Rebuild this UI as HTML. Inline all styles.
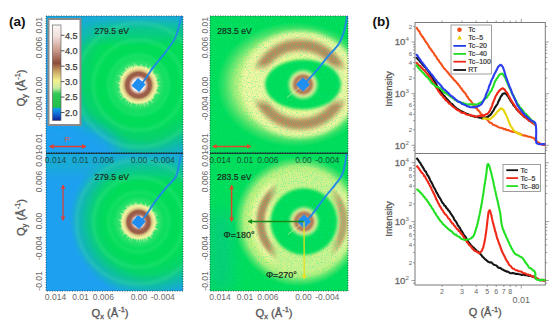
<!DOCTYPE html>
<html><head><meta charset="utf-8"><style>
html,body{margin:0;padding:0;background:#fff;}
svg{display:block;font-family:"Liberation Sans", sans-serif;}
</style></head><body>
<svg width="550" height="324" viewBox="0 0 550 324">
<defs>
<clipPath id="clip1"><rect x="46" y="16" width="137" height="137"/></clipPath>
<clipPath id="clip2"><rect x="210" y="16" width="138" height="137"/></clipPath>
<clipPath id="clip3"><rect x="46" y="153" width="137" height="138"/></clipPath>
<clipPath id="clip4"><rect x="210" y="153" width="138" height="138"/></clipPath>
<filter id="speck" x="0" y="0" width="100%" height="100%" filterUnits="objectBoundingBox"><feTurbulence type="fractalNoise" baseFrequency="0.8" numOctaves="2" seed="3" result="n"/><feColorMatrix in="n" type="matrix" values="0 0 0 0 0  0 0 0 0 0.863  0 0 0 0 0.345  4 0 0 0 -2.0"/><feGaussianBlur stdDeviation="0.35"/></filter>
<filter id="b05" x="-50%" y="-50%" width="200%" height="200%"><feGaussianBlur stdDeviation="0.6"/></filter>
<filter id="b1" x="-50%" y="-50%" width="200%" height="200%"><feGaussianBlur stdDeviation="1"/></filter>
<filter id="b15" x="-50%" y="-50%" width="200%" height="200%"><feGaussianBlur stdDeviation="1.5"/></filter>
<filter id="b2" x="-50%" y="-50%" width="200%" height="200%"><feGaussianBlur stdDeviation="2"/></filter>
<filter id="b3" x="-50%" y="-50%" width="200%" height="200%"><feGaussianBlur stdDeviation="3"/></filter>
<filter id="b5" x="-50%" y="-50%" width="200%" height="200%"><feGaussianBlur stdDeviation="5"/></filter>
<filter id="b8" x="-50%" y="-50%" width="200%" height="200%"><feGaussianBlur stdDeviation="8"/></filter>
<filter id="b14" x="-80%" y="-80%" width="260%" height="260%"><feGaussianBlur stdDeviation="14"/></filter>
<radialGradient id="core1" gradientUnits="userSpaceOnUse" cx="144.5" cy="77.0" r="98"><stop offset="0" stop-color="#00dc58" stop-opacity="1"/><stop offset="0.5" stop-color="#00dc58" stop-opacity="1"/><stop offset="0.64" stop-color="#08d070" stop-opacity="1"/><stop offset="0.78" stop-color="#10b8b0" stop-opacity="1"/><stop offset="0.92" stop-color="#1ea0f0" stop-opacity="1"/><stop offset="1" stop-color="#1ea0f0" stop-opacity="1"/></radialGradient>
<linearGradient id="top1" x1="0" y1="0" x2="0" y2="1"><stop offset="0" stop-color="#18a8e0" stop-opacity="0.95"/><stop offset="0.45" stop-color="#14b4c0" stop-opacity="0.5"/><stop offset="1" stop-color="#18a8e0" stop-opacity="0"/></linearGradient>
<radialGradient id="lr13885" gradientUnits="userSpaceOnUse" cx="138.5" cy="85.0" r="19.8"><stop offset="0" stop-color="#ffffff"/><stop offset="0.3" stop-color="#fcf8f6"/><stop offset="0.4" stop-color="#d0a898"/><stop offset="0.5" stop-color="#9e5c4a"/><stop offset="0.64" stop-color="#9a6048"/><stop offset="0.74" stop-color="#d8c080"/><stop offset="0.86" stop-color="#f2f0a0"/><stop offset="1" stop-color="#f0f0a0" stop-opacity="0"/></radialGradient>
<radialGradient id="halo2" gradientUnits="userSpaceOnUse" cx="295.0" cy="84.5" r="78" gradientTransform="translate(0 84.5) scale(1 0.8) translate(0 -84.5)"><stop offset="0" stop-color="#f2f888"/><stop offset="0.5" stop-color="#f2f888"/><stop offset="0.62" stop-color="#e0f488"/><stop offset="0.76" stop-color="#b0ee7c"/><stop offset="0.9" stop-color="#40e064"/><stop offset="1" stop-color="#00dc58"/></radialGradient>
<linearGradient id="bm2" gradientUnits="userSpaceOnUse" x1="0" y1="34.5" x2="0" y2="134.5"><stop offset="0" stop-color="#fff"/><stop offset="0.28" stop-color="#fff"/><stop offset="0.37" stop-color="#000"/><stop offset="0.63" stop-color="#000"/><stop offset="0.72" stop-color="#fff"/><stop offset="1" stop-color="#fff"/></linearGradient>
<mask id="m2" maskUnits="userSpaceOnUse" x="210" y="16" width="138" height="137"><rect x="210" y="16" width="138" height="137" fill="url(#bm2)"/></mask>
<radialGradient id="inner2" gradientUnits="userSpaceOnUse" cx="303.0" cy="84.5" r="16"><stop offset="0" stop-color="#f8f0e8"/><stop offset="0.35" stop-color="#c09070"/><stop offset="0.55" stop-color="#a06848"/><stop offset="0.72" stop-color="#f0f0a0"/><stop offset="1" stop-color="#f0f0a0" stop-opacity="0"/></radialGradient>
<radialGradient id="core3" gradientUnits="userSpaceOnUse" cx="148.6" cy="220.0" r="90"><stop offset="0" stop-color="#00dc58" stop-opacity="1"/><stop offset="0.47" stop-color="#00dc58" stop-opacity="1"/><stop offset="0.6" stop-color="#06d46c" stop-opacity="1"/><stop offset="0.75" stop-color="#10b8b0" stop-opacity="1"/><stop offset="0.88" stop-color="#1ea0f0" stop-opacity="1"/><stop offset="1" stop-color="#1ea0f0" stop-opacity="1"/></radialGradient>
<linearGradient id="top3" x1="0" y1="0" x2="0" y2="1"><stop offset="0" stop-color="#18a8e0" stop-opacity="0.95"/><stop offset="0.45" stop-color="#14b4c0" stop-opacity="0.5"/><stop offset="1" stop-color="#18a8e0" stop-opacity="0"/></linearGradient>
<radialGradient id="lr138222" gradientUnits="userSpaceOnUse" cx="138.6" cy="222.0" r="18.4"><stop offset="0" stop-color="#ffffff"/><stop offset="0.28" stop-color="#f0e0dc"/><stop offset="0.4" stop-color="#b07868"/><stop offset="0.5" stop-color="#9a5a48"/><stop offset="0.62" stop-color="#9a6048"/><stop offset="0.72" stop-color="#d8c080"/><stop offset="0.84" stop-color="#f2f0a0"/><stop offset="1" stop-color="#f0f0a0" stop-opacity="0"/></radialGradient>
<radialGradient id="halo4" gradientUnits="userSpaceOnUse" cx="299.0" cy="221.5" r="66"><stop offset="0" stop-color="#f2f888"/><stop offset="0.55" stop-color="#f2f888"/><stop offset="0.7" stop-color="#e0f488"/><stop offset="0.84" stop-color="#b0ee7c"/><stop offset="0.95" stop-color="#40e064" stop-opacity="0.6"/><stop offset="1" stop-color="#00dc58" stop-opacity="0"/></radialGradient>
<linearGradient id="bm4" gradientUnits="userSpaceOnUse" x1="254.0" y1="0" x2="354.0" y2="0"><stop offset="0" stop-color="#fff"/><stop offset="0.14" stop-color="#fff"/><stop offset="0.24" stop-color="#000"/><stop offset="0.76" stop-color="#000"/><stop offset="0.86" stop-color="#c0c0c0"/><stop offset="1" stop-color="#c0c0c0"/></linearGradient>
<mask id="m4" maskUnits="userSpaceOnUse" x="210" y="153" width="138" height="138"><rect x="210" y="153" width="138" height="138" fill="url(#bm4)"/></mask>
<radialGradient id="inner4" gradientUnits="userSpaceOnUse" cx="304.0" cy="221.5" r="16"><stop offset="0" stop-color="#f8f0e8"/><stop offset="0.35" stop-color="#c09070"/><stop offset="0.55" stop-color="#a06848"/><stop offset="0.72" stop-color="#f0f0a0"/><stop offset="1" stop-color="#f0f0a0" stop-opacity="0"/></radialGradient>
<linearGradient id="cbar" x1="0" y1="0" x2="0" y2="1"><stop offset="0" stop-color="#fbf7f5"/><stop offset="0.12" stop-color="#f0e0da"/><stop offset="0.27" stop-color="#c89888"/><stop offset="0.4" stop-color="#8a4c3a"/><stop offset="0.48" stop-color="#c8a060"/><stop offset="0.58" stop-color="#f2f08e"/><stop offset="0.66" stop-color="#c8eca0"/><stop offset="0.72" stop-color="#30c858"/><stop offset="0.86" stop-color="#20c048"/><stop offset="0.875" stop-color="#10a0e8"/><stop offset="0.94" stop-color="#1060d0"/><stop offset="1" stop-color="#102090"/></linearGradient>
<clipPath id="chartclip"><rect x="415" y="18" width="130.5" height="270"/></clipPath>
</defs>
<g clip-path="url(#clip1)">
<rect x="46" y="16" width="137" height="137" fill="url(#core1)"/>
<ellipse cx="58" cy="150" rx="58" ry="26" fill="#1ea0f0" filter="url(#b8)"/>
<rect x="46" y="16" width="137" height="30" fill="url(#top1)"/>
<circle cx="138.5" cy="85.0" r="30" fill="none" stroke="#70f4a8" stroke-width="3" opacity="0.22" filter="url(#b15)"/>
<circle cx="138.5" cy="85.0" r="45" fill="none" stroke="#70f4a8" stroke-width="3" opacity="0.22" filter="url(#b15)"/>
<circle cx="138.5" cy="85.0" r="62" fill="none" stroke="#70f4a8" stroke-width="3" opacity="0.22" filter="url(#b15)"/>
<circle cx="138.5" cy="85.0" r="25.8" fill="#70ec90" opacity="0.45" filter="url(#b3)"/>
<polygon points="159.3,85.0 156.9,85.4 162.1,86.1 156.7,86.3 159.5,87.0 156.8,87.2 157.5,87.8 156.5,88.1 159.9,89.2 157.0,89.1 156.6,89.5 155.7,89.7 156.3,90.3 156.5,90.9 159.5,92.4 154.7,91.1 160.7,94.0 156.2,92.7 158.4,94.3 155.1,93.2 155.3,93.8 153.6,93.4 156.8,95.8 153.2,94.1 154.6,95.5 153.1,95.1 153.3,95.7 153.0,96.0 154.6,98.0 153.0,97.3 154.4,99.0 152.1,97.7 153.6,99.7 151.5,98.3 152.7,100.2 150.3,98.3 154.0,103.4 150.6,100.1 152.5,103.4 149.5,100.1 149.8,101.4 148.2,99.8 148.9,101.8 147.3,100.0 149.5,104.8 146.9,101.0 148.8,105.8 146.1,101.4 148.0,106.8 145.7,102.6 144.9,101.9 144.4,101.7 145.8,107.4 143.7,102.5 144.8,108.1 142.8,102.5 142.5,103.1 142.1,103.2 142.3,107.4 141.1,102.6 140.7,103.4 140.2,102.8 140.2,108.8 139.4,103.8 139.0,103.8 138.5,102.7 138.0,103.7 137.7,102.3 136.8,107.8 136.8,102.5 135.9,106.3 135.9,103.0 135.3,103.9 134.9,103.4 134.4,103.4 134.1,103.0 133.6,103.1 133.3,102.3 132.5,103.4 132.6,101.8 130.0,107.4 131.4,102.5 130.6,103.2 130.5,102.3 129.9,102.3 130.1,101.0 127.2,105.3 129.1,101.0 128.7,100.9 127.9,101.2 127.5,100.9 128.1,99.4 124.7,103.0 127.3,99.0 125.7,100.2 127.0,98.0 125.8,98.6 125.6,98.2 124.5,98.6 125.0,97.6 123.3,98.5 124.6,96.7 119.9,99.9 124.0,96.1 121.1,97.6 122.8,95.8 122.5,95.5 123.6,94.3 118.2,96.9 121.9,94.2 121.2,94.1 122.7,92.8 118.1,94.5 120.9,92.7 120.7,92.3 120.5,91.8 116.5,92.8 120.9,90.7 118.8,90.9 121.7,89.6 120.7,89.4 119.7,89.2 119.4,88.7 120.1,88.2 119.1,87.8 119.7,87.3 117.0,87.1 120.7,86.3 119.4,85.9 119.8,85.5 120.0,85.0 120.8,84.6 117.1,84.0 119.5,83.6 116.8,82.9 120.8,82.9 115.2,81.6 121.1,82.0 120.7,81.5 121.1,81.2 118.4,80.0 121.8,80.4 120.2,79.5 121.4,79.4 118.2,77.9 122.2,78.8 119.8,77.4 121.0,77.4 116.8,74.9 121.8,76.8 118.8,74.7 122.4,76.0 122.2,75.4 123.8,75.9 123.3,75.0 122.7,74.1 120.5,71.9 123.2,73.3 124.3,73.6 124.3,73.0 122.8,71.1 124.8,72.2 124.2,71.0 125.0,71.2 125.9,71.4 126.3,71.2 124.0,67.8 126.5,70.1 124.8,67.1 127.5,69.9 125.5,66.2 128.0,69.0 127.9,67.9 129.0,68.9 127.1,64.5 129.6,68.1 129.4,66.6 130.5,67.9 129.2,63.7 131.5,67.9 130.8,64.6 132.5,68.0 131.8,64.5 133.2,67.3 133.6,67.1 134.1,67.0 133.3,61.5 134.8,66.3 134.7,62.9 135.9,67.2 135.8,62.7 136.7,66.6 137.0,64.3 137.6,66.0 138.1,66.4 138.5,66.2 138.9,66.8 139.4,66.5 140.0,64.1 140.2,67.4 141.2,62.9 141.1,66.9 142.2,63.6 142.2,66.2 142.7,65.9 142.6,68.3 143.7,65.8 143.8,67.1 144.5,66.7 144.3,68.4 146.8,63.0 145.5,67.8 146.8,66.0 146.6,67.7 147.4,67.0 147.2,68.5 147.9,68.2 147.7,69.4 150.6,65.5 149.0,69.0 151.8,65.8 149.1,70.4 151.6,67.9 149.7,71.1 150.7,70.6 150.6,71.3 154.2,68.1 151.8,71.4 154.5,69.4 152.6,71.9 153.3,71.9 151.9,73.7 154.7,72.0 152.6,74.2 154.2,73.6 153.4,74.7 156.8,73.0 154.0,75.4 155.7,74.9 155.1,75.8 159.7,73.9 154.8,76.9 155.3,77.2 154.3,78.1 160.1,76.2 154.7,78.9 159.6,77.6 156.0,79.3 157.6,79.3 156.7,80.0 156.1,80.7 155.6,81.2 158.9,81.0 155.5,82.1 161.3,81.7 156.1,82.9 157.3,83.2 155.8,83.7 160.3,83.9 156.7,84.6" fill="#e0f4a0" opacity="0.95" filter="url(#b05)"/>
<circle cx="138.5" cy="85.0" r="19.8" fill="url(#lr13885)" filter="url(#b05)"/>
</g>
<g clip-path="url(#clip2)">
<rect x="210" y="16" width="138" height="137" fill="#00dc58"/>
<rect x="210" y="16" width="138" height="137" fill="url(#halo2)"/>
<ellipse cx="300.0" cy="84.5" rx="46" ry="40" fill="none" stroke="#f2f6a0" stroke-width="26" filter="url(#b2)"/>
<g mask="url(#m2)"><ellipse cx="300.0" cy="84.5" rx="42.5" ry="39.5" fill="none" stroke="#b8885a" stroke-width="11" filter="url(#b2)"/></g>
<ellipse cx="303.0" cy="84.5" rx="38" ry="25" fill="#00dc58" filter="url(#b15)"/>
<rect x="210" y="16" width="138" height="137" filter="url(#speck)" opacity="0.35"/>
<circle cx="303.0" cy="84.5" r="16" fill="url(#inner2)" filter="url(#b1)"/>
<line x1="303.0" y1="84.5" x2="287.0" y2="97.5" stroke="#f0f0b0" stroke-width="1" opacity="0.6"/>
</g>
<g clip-path="url(#clip3)">
<rect x="46" y="153" width="137" height="138" fill="url(#core3)"/>
<rect x="46" y="153" width="137" height="30" fill="url(#top3)"/>
<circle cx="138.6" cy="222.0" r="30" fill="none" stroke="#70f4a8" stroke-width="3" opacity="0.22" filter="url(#b15)"/>
<circle cx="138.6" cy="222.0" r="45" fill="none" stroke="#70f4a8" stroke-width="3" opacity="0.22" filter="url(#b15)"/>
<circle cx="138.6" cy="222.0" r="62" fill="none" stroke="#70f4a8" stroke-width="3" opacity="0.22" filter="url(#b15)"/>
<circle cx="138.6" cy="222.0" r="24.0" fill="#70ec90" opacity="0.45" filter="url(#b3)"/>
<polygon points="157.9,222.0 155.7,222.4 160.5,223.1 155.5,223.2 158.2,223.9 155.6,224.1 156.2,224.6 155.4,224.9 158.5,225.9 155.8,225.8 155.4,226.1 154.6,226.4 155.2,226.9 155.4,227.4 158.1,228.9 153.6,227.7 159.3,230.4 155.0,229.2 157.2,230.6 154.0,229.6 154.3,230.2 152.6,229.8 155.6,232.0 152.3,230.5 153.5,231.8 152.2,231.4 152.3,232.0 152.1,232.3 153.6,234.1 152.1,233.4 153.4,235.1 151.3,233.8 152.6,235.7 150.7,234.4 151.8,236.2 149.6,234.4 153.0,239.1 149.9,236.0 151.7,239.1 148.8,236.1 149.1,237.3 147.6,235.8 148.3,237.6 146.8,235.9 148.8,240.4 146.4,236.9 148.1,241.3 145.7,237.2 147.5,242.3 145.3,238.4 144.6,237.7 144.0,237.5 145.4,242.8 143.4,238.2 144.5,243.5 142.6,238.3 142.3,238.8 141.9,238.9 142.2,242.9 141.0,238.4 140.7,239.2 140.2,238.6 140.2,244.1 139.4,239.5 139.0,239.5 138.6,238.5 138.2,239.4 137.8,238.1 137.1,243.2 137.0,238.3 136.2,241.8 136.2,238.7 135.6,239.6 135.2,239.1 134.8,239.1 134.5,238.8 134.0,238.8 133.8,238.1 133.0,239.1 133.1,237.6 130.7,242.8 132.0,238.3 131.2,239.0 131.1,238.1 130.6,238.1 130.8,236.9 128.1,240.9 129.8,236.9 129.4,236.7 128.7,237.0 128.4,236.8 128.9,235.4 125.8,238.8 128.2,235.0 126.7,236.1 127.9,234.1 126.8,234.7 126.6,234.3 125.6,234.7 126.0,233.7 124.5,234.5 125.7,232.9 121.3,235.9 125.1,232.3 122.4,233.8 124.0,232.1 123.7,231.8 124.7,230.6 119.7,233.1 123.2,230.6 122.5,230.5 123.9,229.3 119.6,230.8 122.2,229.1 122.0,228.8 121.9,228.3 118.1,229.2 122.2,227.3 120.2,227.5 123.0,226.3 122.1,226.1 121.1,225.9 120.8,225.5 121.4,224.9 120.6,224.6 121.1,224.1 118.6,223.9 122.1,223.2 120.8,222.9 121.2,222.4 121.4,222.0 122.1,221.6 118.7,221.0 120.9,220.7 118.5,220.0 122.2,220.0 116.9,218.8 122.4,219.2 122.0,218.8 122.5,218.4 119.9,217.4 123.0,217.8 121.6,216.9 122.7,216.8 119.7,215.4 123.4,216.2 121.2,214.9 122.3,214.9 118.4,212.6 123.1,214.3 120.3,212.4 123.6,213.7 123.4,213.1 124.9,213.5 124.5,212.7 123.9,211.9 121.8,209.8 124.4,211.1 125.4,211.4 125.4,210.9 124.0,209.1 125.8,210.1 125.3,209.0 126.0,209.1 126.9,209.4 127.3,209.2 125.1,206.0 127.5,208.1 125.9,205.4 128.4,207.9 126.5,204.5 128.8,207.1 128.7,206.1 129.8,207.0 128.0,202.9 130.4,206.3 130.1,204.8 131.2,206.1 130.0,202.2 132.1,206.1 131.4,203.0 133.0,206.2 132.4,202.9 133.7,205.5 134.1,205.4 134.5,205.2 133.8,200.2 135.2,204.6 135.1,201.4 136.2,205.4 136.1,201.2 136.9,204.9 137.2,202.8 137.7,204.3 138.2,204.7 138.6,204.5 139.0,205.0 139.4,204.8 140.0,202.6 140.2,205.6 141.1,201.4 141.1,205.2 142.0,202.0 142.0,204.5 142.5,204.2 142.4,206.4 143.5,204.2 143.6,205.4 144.1,204.9 144.0,206.6 146.4,201.5 145.1,206.0 146.3,204.3 146.1,205.9 146.9,205.3 146.7,206.7 147.3,206.3 147.1,207.5 149.8,203.9 148.4,207.1 150.9,204.1 148.5,208.4 150.8,206.1 149.0,209.0 149.9,208.6 149.9,209.3 153.2,206.3 151.0,209.3 153.5,207.5 151.7,209.8 152.3,209.8 151.1,211.5 153.7,209.9 151.8,212.0 153.2,211.4 152.4,212.4 155.6,210.9 153.0,213.0 154.6,212.6 154.1,213.4 158.3,211.6 153.8,214.5 154.2,214.7 153.3,215.6 158.7,213.8 153.6,216.3 158.2,215.1 154.9,216.7 156.4,216.7 155.6,217.4 155.0,218.0 154.5,218.5 157.6,218.3 154.4,219.3 159.8,218.9 155.0,220.0 156.1,220.3 154.7,220.8 158.9,221.0 155.5,221.6" fill="#e0f4a0" opacity="0.95" filter="url(#b05)"/>
<circle cx="138.6" cy="222.0" r="18.4" fill="url(#lr138222)" filter="url(#b05)"/>
</g>
<g clip-path="url(#clip4)">
<rect x="210" y="153" width="138" height="138" fill="#00dc58"/>
<rect x="210" y="213" width="22" height="78" fill="#10b8a0" opacity="0.45" filter="url(#b8)"/>
<rect x="210" y="153" width="138" height="138" fill="url(#halo4)"/>
<circle cx="303.0" cy="221.5" r="42" fill="none" stroke="#cef28e" stroke-width="16" filter="url(#b2)"/>
<g mask="url(#m4)"><ellipse cx="302.0" cy="221.5" rx="41" ry="41" fill="none" stroke="#f2f6a0" stroke-width="18" filter="url(#b2)"/><ellipse cx="302.0" cy="221.5" rx="41.5" ry="41" fill="none" stroke="#b8885a" stroke-width="8" filter="url(#b15)"/></g>
<circle cx="304.0" cy="221.5" r="33.5" fill="#00dc58" filter="url(#b15)"/>
<rect x="210" y="153" width="138" height="138" filter="url(#speck)" opacity="0.35"/>
<circle cx="304.0" cy="221.5" r="16" fill="url(#inner4)" filter="url(#b1)"/>
<line x1="304.0" y1="221.5" x2="288.0" y2="234.5" stroke="#f0f0b0" stroke-width="1" opacity="0.6"/>
</g>
<g clip-path="url(#clip1)">
<path d="M138.5,85.0 C139.3,84.5 140.6,84.9 143.2,81.8 C145.8,78.7 150.1,71.5 154.0,66.4 C157.9,61.3 162.8,55.9 166.4,51.0 C170.0,46.1 173.2,42.4 175.6,37.0 C178.0,31.6 179.6,22.5 180.9,18.5 C182.2,14.5 183.1,13.9 183.5,13.0" fill="none" stroke="#2088e8" stroke-width="1.8" stroke-linecap="round"/>
<rect x="133.5" y="80.0" width="10" height="10" rx="0.8" fill="#1e8ef0" transform="rotate(40 138.5 85.0)"/>
</g>
<g clip-path="url(#clip2)">
<path d="M303.0,84.5 C303.9,83.7 305.8,82.4 308.4,79.6 C311.0,76.8 315.4,71.9 318.9,67.8 C322.4,63.6 326.1,58.6 329.4,54.7 C332.7,50.8 336.2,47.9 338.6,44.2 C341.0,40.5 342.5,36.3 343.8,32.4 C345.1,28.5 345.7,23.9 346.4,20.6 C347.1,17.3 347.7,13.8 348.0,12.5" fill="none" stroke="#2088e8" stroke-width="1.8" stroke-linecap="round"/>
<rect x="298.0" y="79.5" width="10" height="10" rx="0.8" fill="#1e8ef0" transform="rotate(45 303.0 84.5)"/>
</g>
<g clip-path="url(#clip3)">
<path d="M138.6,222.0 C139.5,221.2 141.4,221.1 144.3,217.5 C147.2,213.9 152.4,205.5 156.1,200.4 C159.8,195.3 163.3,191.1 166.6,187.2 C169.9,183.2 173.6,181.1 175.8,176.7 C178.0,172.3 178.7,165.4 179.7,161.0 C180.7,156.6 181.3,151.8 181.6,150.0" fill="none" stroke="#2088e8" stroke-width="1.8" stroke-linecap="round"/>
<rect x="133.6" y="217.0" width="10" height="10" rx="0.8" fill="#1e8ef0" transform="rotate(40 138.6 222.0)"/>
</g>
<g clip-path="url(#clip4)">
<path d="M304.0,221.5 C305.0,220.8 306.5,221.0 310.0,217.0 C313.5,213.0 320.8,202.6 324.9,197.3 C329.0,192.0 331.7,189.2 334.6,185.4 C337.5,181.6 340.4,178.6 342.2,174.6 C344.0,170.6 344.6,165.8 345.4,161.6 C346.2,157.4 346.7,151.5 347.0,149.5" fill="none" stroke="#2088e8" stroke-width="1.8" stroke-linecap="round"/>
<rect x="299.0" y="216.5" width="10" height="10" rx="0.8" fill="#1e8ef0" transform="rotate(45 304.0 221.5)"/>
</g>
<rect x="46" y="16" width="137" height="137" fill="none" stroke="#2a3a40" stroke-width="0.8" stroke-dasharray="1 1.5"/>
<rect x="210" y="16" width="138" height="137" fill="none" stroke="#2a3a40" stroke-width="0.8" stroke-dasharray="1 1.5"/>
<rect x="46" y="153" width="137" height="138" fill="none" stroke="#2a3a40" stroke-width="0.8" stroke-dasharray="1 1.5"/>
<rect x="210" y="153" width="138" height="138" fill="none" stroke="#2a3a40" stroke-width="0.8" stroke-dasharray="1 1.5"/>
<line x1="46" y1="153.3" x2="183" y2="153.3" stroke="#1a2a30" stroke-width="1"/>
<line x1="210" y1="153.3" x2="348" y2="153.3" stroke="#1a2a30" stroke-width="1"/>
<rect x="48.5" y="19" width="32" height="106" fill="#ffffff" stroke="#8a8a8a" stroke-width="2"/>
<rect x="52.5" y="25" width="8.5" height="95.5" fill="url(#cbar)" stroke="#555" stroke-width="0.6"/>
<line x1="61" y1="35.3" x2="64.5" y2="35.3" stroke="#444" stroke-width="0.9"/>
<text x="65" y="38.6" font-size="9" fill="#3a3a3a" stroke="#3a3a3a" stroke-width="0.25">4.5</text>
<line x1="61" y1="50.8" x2="64.5" y2="50.8" stroke="#444" stroke-width="0.9"/>
<text x="65" y="54.0" font-size="9" fill="#3a3a3a" stroke="#3a3a3a" stroke-width="0.25">4.0</text>
<line x1="61" y1="66.2" x2="64.5" y2="66.2" stroke="#444" stroke-width="0.9"/>
<text x="65" y="69.5" font-size="9" fill="#3a3a3a" stroke="#3a3a3a" stroke-width="0.25">3.5</text>
<line x1="61" y1="81.6" x2="64.5" y2="81.6" stroke="#444" stroke-width="0.9"/>
<text x="65" y="84.9" font-size="9" fill="#3a3a3a" stroke="#3a3a3a" stroke-width="0.25">3.0</text>
<line x1="61" y1="97.1" x2="64.5" y2="97.1" stroke="#444" stroke-width="0.9"/>
<text x="65" y="100.4" font-size="9" fill="#3a3a3a" stroke="#3a3a3a" stroke-width="0.25">2.5</text>
<line x1="61" y1="112.5" x2="64.5" y2="112.5" stroke="#444" stroke-width="0.9"/>
<text x="65" y="115.8" font-size="9" fill="#3a3a3a" stroke="#3a3a3a" stroke-width="0.25">2.0</text>
<text x="94.5" y="33.6" font-size="8.6" fill="#1a2a20" stroke="#1a2a20" stroke-width="0.18">279.5 eV</text>
<text x="217.3" y="34" font-size="8.6" fill="#1a2a20" stroke="#1a2a20" stroke-width="0.18">283.5 eV</text>
<text x="94.5" y="180" font-size="8.6" fill="#1a2a20" stroke="#1a2a20" stroke-width="0.18">279.5 eV</text>
<text x="217" y="179.6" font-size="8.6" fill="#1a2a20" stroke="#1a2a20" stroke-width="0.18">283.5 eV</text>
<line x1="49.5" y1="146.5" x2="86" y2="146.5" stroke="#e83c30" stroke-width="1.5"/>
<polygon points="86.0,146.5 82.0,148.9 82.0,144.1" fill="#e83c30"/>
<polygon points="49.5,146.5 53.5,144.1 53.5,148.9" fill="#e83c30"/>
<text x="64.5" y="142" font-size="8" fill="#e0504a">P</text>
<line x1="212.5" y1="146.4" x2="251" y2="146.4" stroke="#e04828" stroke-width="1.5"/>
<polygon points="251.0,146.4 247.0,148.8 247.0,144.0" fill="#e04828"/>
<polygon points="212.5,146.4 216.5,144.0 216.5,148.8" fill="#e04828"/>
<line x1="63" y1="185" x2="63" y2="220.5" stroke="#d84040" stroke-width="1.3"/>
<polygon points="63.0,220.5 60.6,216.5 65.4,216.5" fill="#d84040"/>
<polygon points="63.0,185.0 65.4,189.0 60.6,189.0" fill="#d84040"/>
<line x1="231.6" y1="185.2" x2="231.6" y2="221.5" stroke="#e04828" stroke-width="1.5"/>
<polygon points="231.6,221.5 229.2,217.5 234.0,217.5" fill="#e04828"/>
<polygon points="231.6,185.2 234.0,189.2 229.2,189.2" fill="#e04828"/>
<line x1="304" y1="221.5" x2="248" y2="221.5" stroke="#188a18" stroke-width="1.6"/>
<polygon points="248.0,221.5 252.0,219.1 252.0,223.9" fill="#188a18"/>
<line x1="304" y1="221.5" x2="304.3" y2="279" stroke="#e8e020" stroke-width="1.3"/>
<polygon points="304.3,279.0 301.9,275.0 306.7,275.0" fill="#e8e020"/>
<text x="223.6" y="238.3" font-size="9" fill="#1a2a1a" stroke="#1a2a1a" stroke-width="0.22" textLength="31" lengthAdjust="spacingAndGlyphs">&#934;=180&#176;</text>
<text x="265.9" y="278" font-size="9" fill="#1a2a1a" stroke="#1a2a1a" stroke-width="0.22" textLength="31" lengthAdjust="spacingAndGlyphs">&#934;=270&#176;</text>
<text x="55.5" y="163" font-size="8.5" fill="#1a3a30" fill-opacity="0.9" text-anchor="middle">0.014</text>
<text x="55.5" y="300.3" font-size="8.5" fill="#6a6a6a" text-anchor="middle">0.014</text>
<text x="220.0" y="163" font-size="8.5" fill="#1a3a30" fill-opacity="0.9" text-anchor="middle">0.014</text>
<text x="220.0" y="300.3" font-size="8.5" fill="#6a6a6a" text-anchor="middle">0.014</text>
<text x="80.5" y="163" font-size="8.5" fill="#1a3a30" fill-opacity="0.9" text-anchor="middle">0.01</text>
<text x="80.5" y="300.3" font-size="8.5" fill="#6a6a6a" text-anchor="middle">0.01</text>
<text x="245.0" y="163" font-size="8.5" fill="#1a3a30" fill-opacity="0.9" text-anchor="middle">0.01</text>
<text x="245.0" y="300.3" font-size="8.5" fill="#6a6a6a" text-anchor="middle">0.01</text>
<text x="103.3" y="163" font-size="8.5" fill="#1a3a30" fill-opacity="0.9" text-anchor="middle">0.006</text>
<text x="103.3" y="300.3" font-size="8.5" fill="#6a6a6a" text-anchor="middle">0.006</text>
<text x="267.8" y="163" font-size="8.5" fill="#1a3a30" fill-opacity="0.9" text-anchor="middle">0.006</text>
<text x="267.8" y="300.3" font-size="8.5" fill="#6a6a6a" text-anchor="middle">0.006</text>
<text x="138.9" y="163" font-size="8.5" fill="#1a3a30" fill-opacity="0.9" text-anchor="middle">0.00</text>
<text x="138.9" y="300.3" font-size="8.5" fill="#6a6a6a" text-anchor="middle">0.00</text>
<text x="303.4" y="163" font-size="8.5" fill="#1a3a30" fill-opacity="0.9" text-anchor="middle">0.00</text>
<text x="303.4" y="300.3" font-size="8.5" fill="#6a6a6a" text-anchor="middle">0.00</text>
<text x="162.8" y="163" font-size="8.5" fill="#1a3a30" fill-opacity="0.9" text-anchor="middle">-0.004</text>
<text x="162.8" y="300.3" font-size="8.5" fill="#6a6a6a" text-anchor="middle">-0.004</text>
<text x="327.3" y="163" font-size="8.5" fill="#1a3a30" fill-opacity="0.9" text-anchor="middle">-0.004</text>
<text x="327.3" y="300.3" font-size="8.5" fill="#6a6a6a" text-anchor="middle">-0.004</text>
<text x="42.2" y="25.3" font-size="8.5" fill="#6a6a6a" text-anchor="middle" transform="rotate(-90 42.2 25.3)">0.01</text>
<text x="208.0" y="25.3" font-size="8.5" fill="#6a6a6a" text-anchor="middle" transform="rotate(-90 208.0 25.3)">0.01</text>
<text x="42.2" y="47.5" font-size="8.5" fill="#6a6a6a" text-anchor="middle" transform="rotate(-90 42.2 47.5)">0.006</text>
<text x="208.0" y="47.5" font-size="8.5" fill="#6a6a6a" text-anchor="middle" transform="rotate(-90 208.0 47.5)">0.006</text>
<text x="42.2" y="85.0" font-size="8.5" fill="#6a6a6a" text-anchor="middle" transform="rotate(-90 42.2 85.0)">0.00</text>
<text x="208.0" y="85.0" font-size="8.5" fill="#6a6a6a" text-anchor="middle" transform="rotate(-90 208.0 85.0)">0.00</text>
<text x="42.2" y="108.3" font-size="8.5" fill="#6a6a6a" text-anchor="middle" transform="rotate(-90 42.2 108.3)">-0.004</text>
<text x="208.0" y="108.3" font-size="8.5" fill="#6a6a6a" text-anchor="middle" transform="rotate(-90 208.0 108.3)">-0.004</text>
<text x="42.2" y="143.0" font-size="8.5" fill="#6a6a6a" text-anchor="middle" transform="rotate(-90 42.2 143.0)">-0.01</text>
<text x="208.0" y="143.0" font-size="8.5" fill="#6a6a6a" text-anchor="middle" transform="rotate(-90 208.0 143.0)">-0.01</text>
<text x="42.2" y="158.5" font-size="8.5" fill="#6a6a6a" text-anchor="middle" transform="rotate(-90 42.2 158.5)">0.01</text>
<text x="208.0" y="158.5" font-size="8.5" fill="#6a6a6a" text-anchor="middle" transform="rotate(-90 208.0 158.5)">0.01</text>
<text x="42.2" y="181.5" font-size="8.5" fill="#6a6a6a" text-anchor="middle" transform="rotate(-90 42.2 181.5)">0.006</text>
<text x="208.0" y="181.5" font-size="8.5" fill="#6a6a6a" text-anchor="middle" transform="rotate(-90 208.0 181.5)">0.006</text>
<text x="42.2" y="221.0" font-size="8.5" fill="#6a6a6a" text-anchor="middle" transform="rotate(-90 42.2 221.0)">0.00</text>
<text x="208.0" y="221.0" font-size="8.5" fill="#6a6a6a" text-anchor="middle" transform="rotate(-90 208.0 221.0)">0.00</text>
<text x="42.2" y="248.0" font-size="8.5" fill="#6a6a6a" text-anchor="middle" transform="rotate(-90 42.2 248.0)">-0.004</text>
<text x="208.0" y="248.0" font-size="8.5" fill="#6a6a6a" text-anchor="middle" transform="rotate(-90 208.0 248.0)">-0.004</text>
<text x="42.2" y="281.0" font-size="8.5" fill="#6a6a6a" text-anchor="middle" transform="rotate(-90 42.2 281.0)">-0.01</text>
<text x="208.0" y="281.0" font-size="8.5" fill="#6a6a6a" text-anchor="middle" transform="rotate(-90 208.0 281.0)">-0.01</text>
<text x="24.5" y="88" font-size="11.2" fill="#555" stroke="#555" stroke-width="0.3" text-anchor="middle" transform="rotate(-90 24.5 88)">Q<tspan font-size="7.5" dy="2.2">y</tspan><tspan dy="-2.2"> (&#197;</tspan><tspan font-size="7.5" dy="-4.5">-1</tspan><tspan dy="4.5">)</tspan></text>
<text x="24.5" y="217.5" font-size="11.2" fill="#555" stroke="#555" stroke-width="0.3" text-anchor="middle" transform="rotate(-90 24.5 217.5)">Q<tspan font-size="7.5" dy="2.2">y</tspan><tspan dy="-2.2"> (&#197;</tspan><tspan font-size="7.5" dy="-4.5">-1</tspan><tspan dy="4.5">)</tspan></text>
<text x="110" y="316.5" font-size="11.2" fill="#555" stroke="#555" stroke-width="0.3" text-anchor="middle">Q<tspan font-size="7.5" dy="2.2">x</tspan><tspan dy="-2.2"> (&#197;</tspan><tspan font-size="7.5" dy="-4.5">-1</tspan><tspan dy="4.5">)</tspan></text>
<text x="274" y="316.5" font-size="11.2" fill="#555" stroke="#555" stroke-width="0.3" text-anchor="middle">Q<tspan font-size="7.5" dy="2.2">x</tspan><tspan dy="-2.2"> (&#197;</tspan><tspan font-size="7.5" dy="-4.5">-1</tspan><tspan dy="4.5">)</tspan></text>
<text x="9" y="25.8" font-size="13.5" font-weight="bold" fill="#111">(a)</text>
<text x="372.5" y="25.8" font-size="13.5" font-weight="bold" fill="#111">(b)</text>
<rect x="415" y="22.5" width="130.29999999999995" height="262.5" fill="#fff" stroke="#7a7a7a" stroke-width="1"/>
<line x1="415" y1="153.5" x2="545.3" y2="153.5" stroke="#7a7a7a" stroke-width="1.1"/>
<line x1="413" y1="150.3" x2="415" y2="150.3" stroke="#777" stroke-width="0.7"/>
<line x1="545.3" y1="150.3" x2="547.3" y2="150.3" stroke="#777" stroke-width="0.7"/>
<line x1="413" y1="147.7" x2="415" y2="147.7" stroke="#777" stroke-width="0.7"/>
<line x1="545.3" y1="147.7" x2="547.3" y2="147.7" stroke="#777" stroke-width="0.7"/>
<line x1="411.5" y1="145.3" x2="415" y2="145.3" stroke="#777" stroke-width="0.7"/>
<line x1="545.3" y1="145.3" x2="548.8" y2="145.3" stroke="#777" stroke-width="0.7"/>
<text x="405.4" y="148.6" font-size="9.6" fill="#6a6a6a" stroke="#6a6a6a" stroke-width="0.3" text-anchor="end">10</text>
<text x="405.5" y="144.5" font-size="6.2" fill="#6a6a6a">2</text>
<line x1="413" y1="129.8" x2="415" y2="129.8" stroke="#777" stroke-width="0.7"/>
<line x1="545.3" y1="129.8" x2="547.3" y2="129.8" stroke="#777" stroke-width="0.7"/>
<text x="412" y="131.9" font-size="6" fill="#666" text-anchor="end">2</text>
<line x1="413" y1="120.7" x2="415" y2="120.7" stroke="#777" stroke-width="0.7"/>
<line x1="545.3" y1="120.7" x2="547.3" y2="120.7" stroke="#777" stroke-width="0.7"/>
<line x1="413" y1="114.2" x2="415" y2="114.2" stroke="#777" stroke-width="0.7"/>
<line x1="545.3" y1="114.2" x2="547.3" y2="114.2" stroke="#777" stroke-width="0.7"/>
<text x="412" y="116.3" font-size="6" fill="#666" text-anchor="end">4</text>
<line x1="413" y1="109.2" x2="415" y2="109.2" stroke="#777" stroke-width="0.7"/>
<line x1="545.3" y1="109.2" x2="547.3" y2="109.2" stroke="#777" stroke-width="0.7"/>
<line x1="413" y1="105.1" x2="415" y2="105.1" stroke="#777" stroke-width="0.7"/>
<line x1="545.3" y1="105.1" x2="547.3" y2="105.1" stroke="#777" stroke-width="0.7"/>
<text x="412" y="107.2" font-size="6" fill="#666" text-anchor="end">6</text>
<line x1="413" y1="101.7" x2="415" y2="101.7" stroke="#777" stroke-width="0.7"/>
<line x1="545.3" y1="101.7" x2="547.3" y2="101.7" stroke="#777" stroke-width="0.7"/>
<line x1="413" y1="98.7" x2="415" y2="98.7" stroke="#777" stroke-width="0.7"/>
<line x1="545.3" y1="98.7" x2="547.3" y2="98.7" stroke="#777" stroke-width="0.7"/>
<line x1="413" y1="96.0" x2="415" y2="96.0" stroke="#777" stroke-width="0.7"/>
<line x1="545.3" y1="96.0" x2="547.3" y2="96.0" stroke="#777" stroke-width="0.7"/>
<line x1="411.5" y1="93.7" x2="415" y2="93.7" stroke="#777" stroke-width="0.7"/>
<line x1="545.3" y1="93.7" x2="548.8" y2="93.7" stroke="#777" stroke-width="0.7"/>
<text x="405.4" y="97.0" font-size="9.6" fill="#6a6a6a" stroke="#6a6a6a" stroke-width="0.3" text-anchor="end">10</text>
<text x="405.5" y="92.9" font-size="6.2" fill="#6a6a6a">3</text>
<line x1="413" y1="78.1" x2="415" y2="78.1" stroke="#777" stroke-width="0.7"/>
<line x1="545.3" y1="78.1" x2="547.3" y2="78.1" stroke="#777" stroke-width="0.7"/>
<text x="412" y="80.2" font-size="6" fill="#666" text-anchor="end">2</text>
<line x1="413" y1="69.0" x2="415" y2="69.0" stroke="#777" stroke-width="0.7"/>
<line x1="545.3" y1="69.0" x2="547.3" y2="69.0" stroke="#777" stroke-width="0.7"/>
<line x1="413" y1="62.6" x2="415" y2="62.6" stroke="#777" stroke-width="0.7"/>
<line x1="545.3" y1="62.6" x2="547.3" y2="62.6" stroke="#777" stroke-width="0.7"/>
<text x="412" y="64.7" font-size="6" fill="#666" text-anchor="end">4</text>
<line x1="413" y1="57.5" x2="415" y2="57.5" stroke="#777" stroke-width="0.7"/>
<line x1="545.3" y1="57.5" x2="547.3" y2="57.5" stroke="#777" stroke-width="0.7"/>
<line x1="413" y1="53.5" x2="415" y2="53.5" stroke="#777" stroke-width="0.7"/>
<line x1="545.3" y1="53.5" x2="547.3" y2="53.5" stroke="#777" stroke-width="0.7"/>
<text x="412" y="55.6" font-size="6" fill="#666" text-anchor="end">6</text>
<line x1="413" y1="50.0" x2="415" y2="50.0" stroke="#777" stroke-width="0.7"/>
<line x1="545.3" y1="50.0" x2="547.3" y2="50.0" stroke="#777" stroke-width="0.7"/>
<line x1="413" y1="47.0" x2="415" y2="47.0" stroke="#777" stroke-width="0.7"/>
<line x1="545.3" y1="47.0" x2="547.3" y2="47.0" stroke="#777" stroke-width="0.7"/>
<line x1="413" y1="44.4" x2="415" y2="44.4" stroke="#777" stroke-width="0.7"/>
<line x1="545.3" y1="44.4" x2="547.3" y2="44.4" stroke="#777" stroke-width="0.7"/>
<line x1="411.5" y1="42.0" x2="415" y2="42.0" stroke="#777" stroke-width="0.7"/>
<line x1="545.3" y1="42.0" x2="548.8" y2="42.0" stroke="#777" stroke-width="0.7"/>
<text x="405.4" y="45.3" font-size="9.6" fill="#6a6a6a" stroke="#6a6a6a" stroke-width="0.3" text-anchor="end">10</text>
<text x="405.5" y="41.2" font-size="6.2" fill="#6a6a6a">4</text>
<line x1="413" y1="26.5" x2="415" y2="26.5" stroke="#777" stroke-width="0.7"/>
<line x1="545.3" y1="26.5" x2="547.3" y2="26.5" stroke="#777" stroke-width="0.7"/>
<text x="412" y="28.6" font-size="6" fill="#666" text-anchor="end">2</text>
<line x1="413" y1="283.2" x2="415" y2="283.2" stroke="#777" stroke-width="0.7"/>
<line x1="545.3" y1="283.2" x2="547.3" y2="283.2" stroke="#777" stroke-width="0.7"/>
<line x1="411.5" y1="280.5" x2="415" y2="280.5" stroke="#777" stroke-width="0.7"/>
<line x1="545.3" y1="280.5" x2="548.8" y2="280.5" stroke="#777" stroke-width="0.7"/>
<text x="405.4" y="283.8" font-size="9.6" fill="#6a6a6a" stroke="#6a6a6a" stroke-width="0.3" text-anchor="end">10</text>
<text x="405.5" y="279.7" font-size="6.2" fill="#6a6a6a">2</text>
<line x1="413" y1="262.8" x2="415" y2="262.8" stroke="#777" stroke-width="0.7"/>
<line x1="545.3" y1="262.8" x2="547.3" y2="262.8" stroke="#777" stroke-width="0.7"/>
<text x="412" y="264.9" font-size="6" fill="#666" text-anchor="end">2</text>
<line x1="413" y1="252.4" x2="415" y2="252.4" stroke="#777" stroke-width="0.7"/>
<line x1="545.3" y1="252.4" x2="547.3" y2="252.4" stroke="#777" stroke-width="0.7"/>
<line x1="413" y1="245.0" x2="415" y2="245.0" stroke="#777" stroke-width="0.7"/>
<line x1="545.3" y1="245.0" x2="547.3" y2="245.0" stroke="#777" stroke-width="0.7"/>
<text x="412" y="247.1" font-size="6" fill="#666" text-anchor="end">4</text>
<line x1="413" y1="239.3" x2="415" y2="239.3" stroke="#777" stroke-width="0.7"/>
<line x1="545.3" y1="239.3" x2="547.3" y2="239.3" stroke="#777" stroke-width="0.7"/>
<line x1="413" y1="234.7" x2="415" y2="234.7" stroke="#777" stroke-width="0.7"/>
<line x1="545.3" y1="234.7" x2="547.3" y2="234.7" stroke="#777" stroke-width="0.7"/>
<text x="412" y="236.8" font-size="6" fill="#666" text-anchor="end">6</text>
<line x1="413" y1="230.7" x2="415" y2="230.7" stroke="#777" stroke-width="0.7"/>
<line x1="545.3" y1="230.7" x2="547.3" y2="230.7" stroke="#777" stroke-width="0.7"/>
<line x1="413" y1="227.3" x2="415" y2="227.3" stroke="#777" stroke-width="0.7"/>
<line x1="545.3" y1="227.3" x2="547.3" y2="227.3" stroke="#777" stroke-width="0.7"/>
<text x="412" y="229.4" font-size="6" fill="#666" text-anchor="end">8</text>
<line x1="413" y1="224.3" x2="415" y2="224.3" stroke="#777" stroke-width="0.7"/>
<line x1="545.3" y1="224.3" x2="547.3" y2="224.3" stroke="#777" stroke-width="0.7"/>
<line x1="411.5" y1="221.6" x2="415" y2="221.6" stroke="#777" stroke-width="0.7"/>
<line x1="545.3" y1="221.6" x2="548.8" y2="221.6" stroke="#777" stroke-width="0.7"/>
<text x="405.4" y="224.9" font-size="9.6" fill="#6a6a6a" stroke="#6a6a6a" stroke-width="0.3" text-anchor="end">10</text>
<text x="405.5" y="220.8" font-size="6.2" fill="#6a6a6a">3</text>
<line x1="413" y1="203.9" x2="415" y2="203.9" stroke="#777" stroke-width="0.7"/>
<line x1="545.3" y1="203.9" x2="547.3" y2="203.9" stroke="#777" stroke-width="0.7"/>
<text x="412" y="206.0" font-size="6" fill="#666" text-anchor="end">2</text>
<line x1="413" y1="193.5" x2="415" y2="193.5" stroke="#777" stroke-width="0.7"/>
<line x1="545.3" y1="193.5" x2="547.3" y2="193.5" stroke="#777" stroke-width="0.7"/>
<line x1="413" y1="186.1" x2="415" y2="186.1" stroke="#777" stroke-width="0.7"/>
<line x1="545.3" y1="186.1" x2="547.3" y2="186.1" stroke="#777" stroke-width="0.7"/>
<text x="412" y="188.2" font-size="6" fill="#666" text-anchor="end">4</text>
<line x1="413" y1="180.4" x2="415" y2="180.4" stroke="#777" stroke-width="0.7"/>
<line x1="545.3" y1="180.4" x2="547.3" y2="180.4" stroke="#777" stroke-width="0.7"/>
<line x1="413" y1="175.8" x2="415" y2="175.8" stroke="#777" stroke-width="0.7"/>
<line x1="545.3" y1="175.8" x2="547.3" y2="175.8" stroke="#777" stroke-width="0.7"/>
<text x="412" y="177.9" font-size="6" fill="#666" text-anchor="end">6</text>
<line x1="413" y1="171.8" x2="415" y2="171.8" stroke="#777" stroke-width="0.7"/>
<line x1="545.3" y1="171.8" x2="547.3" y2="171.8" stroke="#777" stroke-width="0.7"/>
<line x1="413" y1="168.4" x2="415" y2="168.4" stroke="#777" stroke-width="0.7"/>
<line x1="545.3" y1="168.4" x2="547.3" y2="168.4" stroke="#777" stroke-width="0.7"/>
<text x="412" y="170.5" font-size="6" fill="#666" text-anchor="end">8</text>
<line x1="413" y1="165.4" x2="415" y2="165.4" stroke="#777" stroke-width="0.7"/>
<line x1="545.3" y1="165.4" x2="547.3" y2="165.4" stroke="#777" stroke-width="0.7"/>
<line x1="411.5" y1="162.7" x2="415" y2="162.7" stroke="#777" stroke-width="0.7"/>
<line x1="545.3" y1="162.7" x2="548.8" y2="162.7" stroke="#777" stroke-width="0.7"/>
<text x="405.4" y="166.0" font-size="9.6" fill="#6a6a6a" stroke="#6a6a6a" stroke-width="0.3" text-anchor="end">10</text>
<text x="405.5" y="161.9" font-size="6.2" fill="#6a6a6a">4</text>
<line x1="521.3" y1="285" x2="521.3" y2="288.5" stroke="#777" stroke-width="0.7"/>
<line x1="521.3" y1="19.0" x2="521.3" y2="22.5" stroke="#777" stroke-width="0.7"/>
<line x1="442.0" y1="285" x2="442.0" y2="287" stroke="#777" stroke-width="0.7"/>
<line x1="442.0" y1="20.5" x2="442.0" y2="22.5" stroke="#777" stroke-width="0.7"/>
<text x="442.0" y="294.3" font-size="7" fill="#666" text-anchor="middle">2</text>
<line x1="462.0" y1="285" x2="462.0" y2="287" stroke="#777" stroke-width="0.7"/>
<line x1="462.0" y1="20.5" x2="462.0" y2="22.5" stroke="#777" stroke-width="0.7"/>
<text x="462.0" y="294.3" font-size="7" fill="#666" text-anchor="middle">3</text>
<line x1="476.2" y1="285" x2="476.2" y2="287" stroke="#777" stroke-width="0.7"/>
<line x1="476.2" y1="20.5" x2="476.2" y2="22.5" stroke="#777" stroke-width="0.7"/>
<text x="476.2" y="294.3" font-size="7" fill="#666" text-anchor="middle">4</text>
<line x1="487.2" y1="285" x2="487.2" y2="287" stroke="#777" stroke-width="0.7"/>
<line x1="487.2" y1="20.5" x2="487.2" y2="22.5" stroke="#777" stroke-width="0.7"/>
<text x="487.2" y="294.3" font-size="7" fill="#666" text-anchor="middle">5</text>
<line x1="496.2" y1="285" x2="496.2" y2="287" stroke="#777" stroke-width="0.7"/>
<line x1="496.2" y1="20.5" x2="496.2" y2="22.5" stroke="#777" stroke-width="0.7"/>
<text x="496.2" y="294.3" font-size="7" fill="#666" text-anchor="middle">6</text>
<line x1="503.8" y1="285" x2="503.8" y2="287" stroke="#777" stroke-width="0.7"/>
<line x1="503.8" y1="20.5" x2="503.8" y2="22.5" stroke="#777" stroke-width="0.7"/>
<text x="503.8" y="294.3" font-size="7" fill="#666" text-anchor="middle">7</text>
<line x1="510.3" y1="285" x2="510.3" y2="287" stroke="#777" stroke-width="0.7"/>
<line x1="510.3" y1="20.5" x2="510.3" y2="22.5" stroke="#777" stroke-width="0.7"/>
<text x="510.3" y="294.3" font-size="7" fill="#666" text-anchor="middle">8</text>
<line x1="516.1" y1="285" x2="516.1" y2="287" stroke="#777" stroke-width="0.7"/>
<line x1="516.1" y1="20.5" x2="516.1" y2="22.5" stroke="#777" stroke-width="0.7"/>
<text x="521.3" y="302.5" font-size="9" fill="#666" text-anchor="middle">0.01</text>
<text x="485.3" y="316" font-size="11" fill="#555" stroke="#555" stroke-width="0.3" text-anchor="middle">Q (&#197;<tspan font-size="7.5" dy="-4.5">-1</tspan><tspan dy="4.5">)</tspan></text>
<text x="391.5" y="89" font-size="9.5" fill="#5a5a5a" stroke="#5a5a5a" stroke-width="0.3" text-anchor="middle" transform="rotate(-90 391.5 89)">Intensity</text>
<text x="391.5" y="219" font-size="9.5" fill="#5a5a5a" stroke="#5a5a5a" stroke-width="0.3" text-anchor="middle" transform="rotate(-90 391.5 219)">Intensity</text>
<g clip-path="url(#chartclip)">
<path d="M416.3,27.0 L416.7,27.7 L417.1,28.4 L417.6,29.3 L418.1,30.0 L418.7,31.1 L419.3,31.2 L419.9,32.7 L420.6,34.2 L421.4,35.1 L422.1,36.5 L422.9,37.0 L423.7,38.6 L424.5,39.7 L425.3,41.2 L426.2,42.5 L427.0,43.3 L427.9,44.7 L428.5,45.7 L429.1,47.2 L429.8,48.0 L430.4,48.4 L431.1,50.0 L431.8,50.4 L432.5,51.9 L433.3,52.5 L434.0,53.5 L434.8,55.3 L435.5,55.8 L436.3,56.9 L437.1,58.7 L437.8,59.7 L438.6,60.2 L439.3,61.9 L440.1,62.5 L440.8,63.7 L441.6,64.3 L442.3,65.9 L443.0,66.7 L443.7,67.9 L444.3,68.7 L445.0,69.0 L445.6,69.9 L446.5,70.9 L447.5,72.0 L448.3,73.0 L449.2,74.2 L450.0,75.5 L450.9,75.9 L451.7,77.3 L452.5,77.9 L453.2,78.7 L454.0,80.0 L454.8,80.5 L455.5,81.2 L456.3,82.2 L457.0,83.2 L457.8,83.5 L458.5,85.2 L459.3,85.4 L460.1,87.0 L460.9,88.2 L461.7,88.5 L462.5,90.2 L463.2,90.9 L464.0,92.1 L464.8,92.6 L465.5,93.7 L466.2,94.8 L467.0,96.5 L467.6,96.7 L468.3,98.1 L469.0,99.2 L469.6,100.0 L470.6,100.7 L471.5,101.9 L472.3,103.2 L473.1,104.4 L473.9,104.8 L474.7,106.3 L475.4,107.3 L476.2,108.3 L477.0,108.5 L477.8,110.3 L478.6,110.5 L479.5,111.7 L480.3,112.9 L481.1,114.1 L481.9,114.5 L482.7,115.9 L483.6,116.4 L484.4,117.0 L485.3,117.9 L486.2,118.7 L487.1,119.5 L488.0,120.4 L488.9,121.7 L489.9,122.7 L490.9,122.7 L491.9,123.3 L493.0,124.8 L494.1,125.0 L495.3,125.5 L496.5,125.9 L497.8,126.8 L499.1,127.5 L500.4,127.7 L501.7,128.1 L502.8,128.2 L503.9,129.3 L505.1,128.9 L506.2,129.7 L507.4,130.3 L508.6,130.0 L509.8,130.9 L511.0,131.4 L512.2,131.5 L513.4,132.0 L514.6,131.7 L515.8,132.4 L517.0,132.5 L518.2,133.6 L519.4,133.5 L520.6,134.0 L521.8,134.9 L522.9,135.1 L524.0,135.6 L525.1,135.5 L526.6,136.0 L528.0,136.6 L529.4,136.8 L530.7,137.0 L531.9,137.5 L533.0,137.7 L533.9,138.3 L535.2,139.8 L535.9,140.7 L536.8,141.4 L537.7,142.1 L538.6,142.8 L539.8,143.3 L541.2,144.1 L542.3,144.8 L543.7,145.0 L545.1,144.7 L546.6,145.2 L548.0,145.2 L549.2,145.2 L550.0,145.1" fill="none" stroke="#f4501a" stroke-width="2.1" stroke-linejoin="round"/>
<path d="M416.2,57.1 L416.7,57.8 L417.2,58.1 L417.8,59.1 L418.5,59.5 L419.3,60.6 L420.1,61.8 L421.0,62.7 L421.9,63.4 L422.8,65.1 L423.8,65.9 L424.7,67.0 L425.6,67.6 L426.5,69.2 L427.4,70.0 L428.3,71.5 L429.1,72.4 L429.8,73.7 L430.5,74.6 L431.2,75.8 L431.9,76.5 L432.6,77.9 L433.3,79.1 L433.9,80.3 L434.5,81.0 L435.2,82.5 L435.8,83.7 L436.4,84.6 L437.0,85.9 L437.6,87.0 L438.2,87.6 L438.8,88.6 L439.4,89.2 L440.0,90.7 L440.8,91.9 L441.6,92.6 L442.4,93.8 L443.2,94.8 L443.9,95.8 L444.7,96.2 L445.5,97.6 L446.2,98.3 L447.0,99.2 L447.8,99.8 L448.5,100.8 L449.3,101.7 L450.2,102.6 L451.1,103.6 L452.1,103.9 L453.0,104.9 L453.9,106.0 L454.8,107.0 L455.7,107.4 L456.7,108.6 L457.6,109.3 L458.5,109.4 L459.7,110.5 L460.8,111.0 L462.0,111.5 L463.2,112.1 L464.3,112.8 L465.5,113.2 L466.6,113.7 L467.8,114.0 L469.0,114.8 L470.1,115.2 L471.3,115.8 L472.5,116.1 L473.7,116.1 L474.8,117.0 L475.9,116.5 L477.0,117.1 L478.4,117.3 L479.7,117.7 L480.9,117.7 L482.1,118.5 L483.3,118.1 L484.4,117.7 L485.6,117.9 L486.8,117.1 L487.8,116.9 L488.9,115.9 L490.0,115.1 L490.7,114.6 L491.4,113.6 L492.1,112.2 L492.8,111.5 L493.6,110.2 L494.3,108.7 L495.1,107.2 L495.9,106.3 L496.5,105.3 L497.1,104.6 L497.7,103.4 L498.3,101.8 L499.0,100.3 L499.6,99.6 L500.3,97.5 L500.9,96.5 L501.5,95.8 L502.1,95.0 L502.7,93.8 L503.2,93.7 L504.5,93.3 L505.5,93.4 L506.5,94.5 L507.6,95.8 L508.3,96.6 L508.9,98.2 L509.7,98.8 L510.4,100.5 L511.2,101.7 L511.9,102.6 L512.7,103.5 L513.4,105.2 L514.2,105.9 L515.0,106.9 L515.8,107.8 L516.6,109.4 L517.4,110.0 L518.3,110.8 L519.3,112.0 L520.2,112.5 L521.1,113.8 L522.0,114.5 L523.0,115.3 L524.1,116.6 L525.1,117.4 L526.1,117.5 L527.1,118.7 L528.0,119.2 L529.2,120.6 L530.4,121.3 L531.7,121.5 L532.8,122.2 L533.9,122.6 L534.7,123.9 L535.4,123.8" fill="none" stroke="#151515" stroke-width="2.1" stroke-linejoin="round"/>
<path d="M416.2,62.1 L416.7,62.9 L417.2,63.3 L417.9,64.2 L418.6,64.9 L419.4,65.8 L420.3,66.1 L421.2,67.6 L422.1,68.1 L423.0,69.3 L424.0,70.1 L425.0,71.1 L425.9,72.4 L426.8,73.4 L427.7,74.3 L428.5,75.7 L429.2,76.5 L429.9,77.0 L430.6,78.2 L431.3,79.5 L432.0,81.0 L432.7,82.0 L433.4,82.8 L434.1,83.5 L434.8,85.3 L435.5,86.1 L436.1,87.3 L436.8,88.5 L437.5,89.5 L438.1,90.4 L438.8,91.7 L439.4,92.1 L440.0,93.0 L440.9,94.6 L441.8,95.2 L442.7,96.3 L443.5,97.8 L444.4,98.0 L445.2,99.6 L446.0,100.3 L446.8,100.9 L447.6,101.5 L448.5,102.8 L449.3,103.7 L450.3,103.9 L451.3,105.2 L452.4,106.2 L453.4,107.0 L454.4,107.7 L455.4,108.3 L456.5,109.4 L457.5,110.3 L458.5,110.3 L459.7,111.1 L460.8,112.2 L462.0,112.7 L463.2,113.0 L464.3,112.9 L465.5,113.9 L466.6,114.5 L467.8,114.8 L469.1,115.0 L470.4,114.8 L471.7,115.8 L473.1,115.6 L474.4,116.2 L475.7,116.7 L477.0,116.5 L478.4,115.9 L479.8,115.9 L481.3,116.2 L482.7,115.2 L484.0,115.3 L485.3,114.7 L486.3,114.1 L487.6,113.9 L488.4,112.9 L489.1,112.0 L490.0,110.5 L490.4,109.4 L490.8,108.5 L491.2,107.9 L491.7,106.9 L492.1,105.8 L492.6,103.8 L493.1,102.8 L493.5,101.4 L494.0,100.4 L494.5,99.1 L495.0,98.3 L495.4,96.8 L495.9,95.6 L496.7,94.7 L497.6,92.8 L498.5,91.9 L499.3,90.7 L500.1,90.2 L500.9,89.2 L501.7,88.8 L502.9,88.3 L503.9,89.1 L504.9,89.9 L506.1,91.8 L506.7,92.4 L507.3,93.0 L507.9,94.2 L508.5,95.5 L509.2,97.1 L509.9,97.8 L510.6,99.6 L511.3,100.8 L512.0,101.4 L512.7,103.0 L513.3,103.5 L514.0,104.6 L514.8,106.1 L515.5,106.8 L516.2,108.5 L517.0,109.1 L517.7,110.0 L518.5,111.4 L519.3,111.6 L520.2,113.2 L521.2,113.5 L522.1,114.4 L523.1,116.0 L524.1,116.5 L525.1,116.9 L526.1,117.6 L527.1,119.1 L528.0,119.5 L529.2,120.7 L530.4,121.0 L531.7,122.4 L532.8,123.1 L533.9,123.8 L534.7,124.5 L535.4,125.2" fill="none" stroke="#f02818" stroke-width="2.1" stroke-linejoin="round"/>
<path d="M415.8,64.9 L416.3,65.2 L416.9,65.9 L417.6,66.4 L418.4,67.9 L419.3,68.7 L420.2,69.9 L421.2,70.6 L422.1,72.0 L423.1,72.7 L424.0,73.8 L424.8,74.7 L425.7,75.8 L426.6,76.6 L427.5,77.4 L428.4,78.4 L429.3,79.6 L430.2,80.5 L431.1,82.3 L431.9,82.9 L432.7,84.0 L433.5,84.1 L434.7,85.4 L435.7,86.5 L436.7,86.8 L437.7,87.1 L438.8,87.7 L440.0,88.1 L440.9,88.9 L441.9,89.7 L442.9,90.7 L443.9,91.6 L445.0,93.0 L446.1,93.2 L447.2,94.2 L448.3,95.0 L449.3,95.7 L450.5,96.6 L451.6,97.3 L452.8,98.3 L453.9,98.6 L455.0,100.1 L456.2,100.2 L457.3,101.3 L458.5,101.7 L459.7,102.2 L460.8,102.4 L462.0,103.3 L463.2,102.9 L464.3,103.7 L465.5,103.7 L466.6,104.3 L467.8,104.5 L469.1,104.2 L470.5,104.4 L471.8,104.3 L473.2,104.5 L474.5,104.3 L475.8,104.5 L477.0,104.7 L478.2,103.8 L479.3,103.2 L480.3,102.8 L481.4,102.0 L482.4,101.6 L483.4,100.7 L484.4,99.3 L485.2,98.6 L486.0,98.1 L486.8,97.4 L487.6,96.2 L488.4,95.0 L489.1,94.5 L489.8,92.5 L490.5,91.5 L491.2,91.1 L491.8,89.6 L492.4,88.0 L492.9,87.2 L493.4,86.3 L493.9,84.5 L494.4,83.1 L494.9,81.7 L495.4,80.5 L495.9,80.3 L496.8,78.5 L497.7,77.6 L498.6,75.7 L499.5,74.9 L500.3,74.0 L501.1,73.9 L502.3,73.6 L503.3,74.7 L504.6,76.9 L505.0,77.6 L505.5,78.3 L506.0,79.3 L506.4,81.3 L507.0,81.8 L507.5,83.4 L508.0,84.6 L508.6,86.1 L509.2,87.0 L509.8,88.6 L510.5,89.7 L511.0,91.1 L511.5,92.5 L512.1,93.3 L512.6,94.7 L513.2,95.2 L513.8,96.2 L514.4,97.8 L515.0,98.9 L515.6,100.1 L516.3,101.0 L516.9,102.4 L517.5,103.5 L518.1,104.7 L518.7,105.1 L519.3,106.2 L520.1,107.7 L520.9,108.2 L521.7,109.2 L522.5,110.3 L523.3,111.1 L524.1,112.6 L524.9,113.5 L525.7,113.9 L526.5,114.6 L527.3,115.3 L528.0,116.3 L529.0,117.2 L530.1,118.6 L531.2,119.8 L532.2,120.6 L533.2,121.3 L534.1,122.7 L534.8,122.9 L535.4,123.8" fill="none" stroke="#22e022" stroke-width="2.1" stroke-linejoin="round"/>
<path d="M416.2,54.0 L416.6,54.7 L417.1,55.4 L417.7,55.9 L418.3,57.1 L419.0,57.9 L419.8,59.3 L420.6,60.2 L421.4,61.6 L422.2,62.5 L423.1,63.7 L423.9,64.7 L424.8,65.7 L425.6,67.2 L426.5,68.1 L427.2,69.4 L428.0,70.2 L428.8,71.2 L429.6,71.8 L430.4,73.3 L431.2,74.0 L432.0,74.8 L432.7,75.7 L433.5,76.8 L434.3,77.9 L435.1,79.3 L435.9,79.9 L436.6,80.6 L437.4,82.2 L438.2,82.9 L438.9,83.3 L439.6,84.1 L440.6,85.2 L441.5,86.4 L442.4,87.8 L443.3,88.8 L444.2,89.4 L445.0,89.9 L445.9,90.8 L446.7,91.6 L447.6,92.3 L448.4,92.8 L449.3,94.1 L450.3,95.2 L451.4,96.1 L452.4,96.4 L453.4,97.7 L454.4,98.2 L455.4,99.5 L456.5,100.0 L457.5,101.2 L458.5,101.8 L459.7,101.9 L460.9,102.8 L462.1,104.0 L463.3,104.2 L464.4,104.7 L465.6,105.2 L466.7,106.0 L467.8,106.5 L469.1,106.6 L470.4,107.3 L471.6,107.2 L472.8,106.9 L474.0,107.5 L475.2,106.9 L476.3,106.3 L477.3,106.9 L478.4,105.7 L479.4,105.7 L480.5,104.8 L481.5,104.2 L482.6,102.3 L483.1,101.4 L483.5,100.5 L484.0,99.5 L484.5,98.8 L485.0,97.4 L485.4,96.6 L485.9,94.9 L486.4,93.8 L486.9,92.4 L487.3,91.8 L487.8,90.4 L488.3,89.1 L488.7,87.7 L489.1,86.3 L489.6,85.0 L490.0,84.6 L490.5,83.0 L491.1,81.3 L491.6,80.2 L492.1,78.9 L492.6,78.3 L493.1,77.3 L493.6,75.6 L494.1,75.0 L494.6,73.6 L495.0,73.0 L495.5,72.3 L495.9,71.2 L496.7,69.9 L497.5,68.2 L498.2,66.7 L498.9,66.2 L499.6,65.7 L500.2,64.9 L501.2,65.1 L502.1,66.0 L503.2,67.8 L503.5,68.8 L503.9,69.8 L504.3,71.0 L504.6,72.3 L505.0,73.3 L505.4,75.1 L505.8,76.3 L506.3,77.7 L506.7,78.9 L507.1,80.2 L507.6,81.3 L508.0,82.7 L508.4,83.4 L508.8,84.7 L509.3,86.0 L509.7,87.0 L510.2,88.0 L510.6,88.9 L511.1,90.1 L511.6,91.5 L512.0,92.9 L512.5,94.1 L512.9,95.2 L513.4,95.8 L514.0,97.7 L514.5,98.4 L515.1,100.0 L515.6,100.6 L516.2,102.4 L516.7,103.4 L517.3,104.8 L517.9,105.9 L518.6,106.8 L519.3,108.0 L520.0,108.9 L520.7,109.8 L521.5,110.5 L522.3,111.8 L523.1,113.1 L524.0,113.5 L524.8,115.1 L525.6,115.6 L526.5,116.3 L527.2,116.8 L528.0,117.9 L529.2,118.7 L530.4,119.8 L531.6,120.6 L532.8,121.2 L533.8,121.6 L534.7,122.4 L535.4,123.4 L535.7,124.9 L535.9,125.9 L536.0,127.3 L536.1,128.3 L536.2,130.2 L536.2,131.0 L536.2,132.5 L536.2,133.9 L536.1,135.6 L536.1,137.2 L536.1,137.7 L536.1,139.2 L536.2,140.1 L536.2,141.9 L536.2,142.6 L537.5,143.6 L538.4,144.0 L539.5,144.2 L540.8,144.2 L542.3,144.0 L543.8,144.1 L545.4,144.2 L546.8,144.6 L548.1,144.1 L549.2,144.1 L550.0,144.3" fill="none" stroke="#2a3ef0" stroke-width="2.1" stroke-linejoin="round"/>
<path d="M482.6,118.2 L483.4,118.7 L484.6,118.3 L485.9,118.5 L487.4,118.8 L488.8,119.3 L490.0,119.1 L491.1,118.2 L492.1,117.4 L493.1,116.7 L494.0,115.7 L495.0,114.6 L495.9,113.7 L496.8,112.1 L497.7,111.4 L498.6,110.6 L499.5,109.8 L500.3,108.5 L501.1,108.6 L502.0,108.5 L502.8,109.4 L503.6,110.0 L504.6,112.2 L505.0,113.1 L505.4,113.7 L505.9,114.4 L506.4,115.6 L506.9,116.8 L507.4,118.0 L507.9,119.3 L508.5,121.0 L509.0,121.7 L509.5,123.5 L510.0,124.5 L510.5,125.5 L511.3,126.9 L512.2,128.1 L513.0,129.4 L513.8,130.5 L514.6,131.1 L515.5,132.2 L516.3,132.2 L517.6,133.2 L518.9,133.8 L520.3,134.5 L521.4,135.1 L522.2,135.5" fill="none" stroke="#e8d400" stroke-width="2.1" stroke-linejoin="round"/>
<path d="M416.6,157.7 L417.0,158.4 L417.4,159.2 L417.9,159.4 L418.5,160.5 L419.1,161.6 L419.8,162.4 L420.5,163.2 L421.2,164.8 L422.0,165.8 L422.7,167.2 L423.5,168.3 L424.3,170.0 L425.1,171.2 L425.9,171.7 L426.7,173.7 L427.4,174.9 L427.9,175.5 L428.5,176.3 L429.0,177.7 L429.6,178.6 L430.2,180.1 L430.8,181.3 L431.3,182.0 L431.9,183.1 L432.5,184.4 L433.1,185.8 L433.7,187.0 L434.3,188.0 L434.9,188.9 L435.5,190.1 L436.1,191.7 L436.6,192.5 L437.2,193.2 L437.8,194.6 L438.4,195.5 L438.9,196.9 L439.5,197.3 L440.0,198.4 L440.8,199.5 L441.5,201.0 L442.3,202.6 L443.0,203.2 L443.7,204.1 L444.4,205.6 L445.2,205.7 L445.9,206.9 L446.6,208.2 L447.3,208.4 L448.0,210.0 L448.7,210.6 L449.4,211.2 L450.1,212.4 L450.8,213.7 L451.5,214.6 L452.2,215.8 L452.9,216.5 L453.6,217.7 L454.2,219.5 L454.9,220.2 L455.6,221.3 L456.3,222.1 L457.0,223.4 L457.7,225.1 L458.4,226.0 L459.1,226.9 L459.7,227.6 L460.4,228.9 L461.0,230.3 L461.6,230.9 L462.4,232.3 L463.2,233.8 L463.9,234.8 L464.6,235.9 L465.3,236.5 L466.0,237.6 L466.7,239.4 L467.4,240.1 L468.1,241.5 L468.8,242.4 L469.5,243.5 L470.2,243.9 L471.1,245.5 L472.0,246.2 L472.9,247.3 L473.7,247.5 L474.6,248.9 L475.5,249.4 L476.4,250.7 L477.3,251.5 L478.1,251.5 L478.9,252.5 L479.9,253.4 L480.8,254.6 L481.7,255.5 L482.6,256.9 L483.4,257.4 L484.3,258.3 L485.1,259.4 L486.0,259.8 L487.1,260.9 L488.3,261.9 L489.4,262.4 L490.5,262.2 L491.7,262.6 L493.0,264.0 L493.9,264.7 L494.9,265.0 L495.9,265.2 L496.9,266.0 L498.0,267.3 L499.0,268.0 L500.1,267.9 L501.2,268.7 L502.2,269.4 L503.3,269.8 L504.5,270.8 L505.6,270.9 L506.7,271.7 L507.8,271.6 L509.0,272.3 L510.2,273.1 L511.5,273.2 L512.7,272.9 L514.0,273.2 L515.3,273.9 L516.6,273.8 L518.0,274.0 L519.3,274.3 L520.6,274.5 L521.9,275.0 L523.1,274.6 L524.6,275.1 L526.1,275.1 L527.6,275.5 L528.9,275.9 L530.2,275.6 L531.4,276.2 L532.4,276.6 L534.0,276.5 L534.9,277.7 L535.9,277.9 L537.0,278.7 L538.2,279.5 L540.0,280.3 L541.0,279.7 L542.3,280.2 L543.8,279.9 L545.3,280.3 L546.7,280.3 L548.1,280.0 L549.2,280.3 L550.0,280.5" fill="none" stroke="#151515" stroke-width="2.1" stroke-linejoin="round"/>
<path d="M416.6,165.4 L417.0,166.1 L417.5,167.0 L418.0,167.2 L418.7,168.2 L419.3,169.2 L420.1,170.4 L420.8,171.4 L421.6,172.6 L422.4,173.1 L423.3,174.1 L424.1,176.0 L425.0,176.5 L425.8,178.2 L426.6,179.8 L427.4,180.9 L427.9,181.7 L428.4,183.2 L429.0,183.6 L429.5,184.9 L430.1,186.2 L430.6,186.7 L431.2,188.1 L431.7,189.4 L432.3,190.6 L432.8,191.5 L433.4,192.9 L434.0,193.8 L434.6,195.0 L435.1,196.4 L435.7,197.4 L436.2,199.4 L436.8,199.9 L437.3,201.0 L437.9,202.5 L438.4,203.5 L439.0,204.1 L439.5,205.6 L440.0,206.3 L440.8,207.4 L441.5,208.9 L442.3,209.7 L443.0,210.8 L443.7,212.4 L444.4,213.0 L445.2,214.4 L445.9,214.7 L446.6,215.6 L447.3,216.4 L448.0,217.9 L448.7,218.6 L449.4,219.0 L450.1,220.0 L450.8,221.6 L451.6,222.3 L452.4,223.6 L453.2,223.8 L453.9,225.3 L454.7,225.8 L455.5,227.2 L456.3,228.1 L457.1,229.0 L457.9,229.5 L458.7,231.1 L459.4,231.2 L460.2,232.0 L460.9,233.5 L461.6,233.8 L462.4,234.9 L463.2,236.3 L463.9,237.5 L464.7,238.8 L465.4,239.7 L466.1,240.2 L466.8,241.7 L467.5,242.9 L468.2,243.2 L468.9,244.7 L469.5,245.1 L470.2,245.9 L471.2,246.8 L472.2,248.5 L473.3,249.3 L474.3,250.6 L475.2,251.0 L476.2,251.4 L477.0,252.0 L477.8,252.4 L479.1,253.3 L480.2,252.4 L481.2,251.5 L482.1,250.3 L482.4,249.3 L482.7,248.8 L483.0,248.1 L483.3,247.2 L483.6,245.7 L483.9,244.5 L484.2,243.6 L484.4,242.4 L484.7,240.7 L485.0,239.3 L485.3,237.9 L485.5,236.2 L485.6,235.2 L485.8,234.3 L486.0,233.0 L486.1,232.1 L486.3,230.4 L486.5,229.1 L486.7,227.4 L486.8,226.3 L487.0,224.8 L487.2,222.9 L487.4,221.3 L487.5,220.0 L487.7,218.7 L487.8,217.9 L488.0,216.1 L488.1,215.3 L488.3,214.2 L488.4,213.6 L488.5,212.0 L488.6,211.8 L489.4,210.4 L489.9,210.3 L490.7,212.8 L490.9,213.8 L491.2,214.6 L491.4,215.2 L491.7,217.3 L492.0,218.0 L492.3,219.7 L492.6,221.2 L492.9,222.2 L493.3,223.8 L493.6,225.2 L494.0,226.3 L494.3,227.4 L494.6,229.1 L494.9,230.0 L495.2,231.5 L495.6,232.0 L495.9,233.4 L496.2,234.5 L496.6,236.3 L497.0,237.4 L497.3,238.7 L497.7,239.5 L498.0,240.2 L498.4,241.6 L498.8,242.6 L499.2,243.6 L499.7,245.3 L500.2,246.3 L500.6,247.4 L501.1,248.9 L501.6,250.5 L502.1,251.7 L502.5,252.4 L503.0,253.2 L503.6,254.8 L504.1,255.3 L504.6,256.7 L505.2,257.5 L505.9,259.6 L506.5,260.3 L507.2,261.4 L507.8,262.3 L508.5,263.6 L509.2,265.0 L509.9,265.5 L510.7,266.1 L511.5,267.2 L512.5,268.4 L513.7,268.7 L514.8,269.5 L516.0,270.3 L517.2,270.3 L518.4,271.1 L519.6,271.3 L520.8,271.5 L522.0,271.9 L523.2,273.2 L524.4,273.2 L525.7,273.6 L526.9,274.5 L528.0,274.6 L529.1,274.9 L530.1,275.1 L531.5,276.1 L532.8,276.3 L533.9,277.0 L534.9,277.8 L535.9,278.1 L537.2,278.4 L538.3,279.2 L540.0,280.2 L541.0,280.3 L542.3,279.9 L543.8,280.8 L545.3,280.0 L546.7,280.1 L548.1,280.1 L549.2,280.4 L550.0,280.5" fill="none" stroke="#f02818" stroke-width="2.1" stroke-linejoin="round"/>
<path d="M416.6,188.7 L417.1,189.5 L417.6,189.5 L418.3,190.7 L419.1,190.9 L419.9,192.2 L420.8,192.9 L421.7,194.0 L422.6,194.8 L423.6,196.5 L424.6,197.1 L425.5,198.8 L426.5,199.6 L427.4,201.1 L428.0,202.0 L428.7,202.8 L429.3,204.1 L430.0,205.1 L430.6,205.6 L431.3,206.7 L432.0,208.3 L432.7,208.7 L433.4,210.1 L434.0,211.2 L434.7,212.8 L435.4,213.1 L436.1,214.7 L436.8,215.8 L437.4,216.8 L438.1,217.1 L438.7,218.9 L439.4,219.2 L440.0,220.5 L441.0,221.5 L441.9,222.5 L442.8,223.9 L443.7,224.7 L444.6,225.3 L445.5,226.5 L446.4,227.2 L447.3,228.1 L448.1,228.8 L449.0,229.7 L449.9,229.9 L450.8,231.0 L451.8,231.4 L452.9,232.9 L453.9,233.7 L455.0,234.6 L456.1,234.6 L457.1,235.8 L458.2,236.4 L459.1,236.7 L460.0,237.4 L460.9,238.6 L461.6,238.9 L463.4,239.3 L464.5,240.0 L465.9,239.7 L467.1,239.4 L468.4,239.5 L469.9,238.9 L471.2,238.3 L472.4,237.1 L473.0,236.9 L473.5,235.9 L474.0,235.1 L474.5,233.8 L474.9,232.5 L475.3,231.1 L475.8,230.1 L476.2,228.2 L476.7,226.8 L477.0,226.0 L477.2,224.7 L477.5,223.9 L477.8,222.3 L478.0,221.4 L478.3,220.8 L478.6,219.0 L478.8,217.8 L479.1,216.5 L479.4,215.9 L479.6,214.0 L479.9,213.0 L480.2,211.6 L480.4,210.5 L480.7,208.8 L481.0,207.3 L481.2,205.8 L481.4,205.4 L481.6,204.2 L481.8,202.9 L482.0,201.9 L482.2,200.4 L482.4,199.2 L482.6,198.0 L482.8,196.5 L483.1,194.6 L483.3,194.0 L483.5,192.8 L483.7,190.7 L483.9,189.2 L484.1,188.2 L484.3,186.6 L484.5,185.6 L484.7,184.1 L484.9,183.0 L485.1,181.7 L485.2,180.9 L485.4,179.8 L485.6,179.1 L485.7,177.9 L486.0,175.8 L486.2,174.6 L486.5,172.8 L486.6,171.0 L486.8,169.1 L487.0,167.9 L487.1,166.8 L487.3,165.7 L487.5,164.6 L487.7,164.3 L487.9,164.2 L488.3,164.1 L488.7,164.7 L489.1,165.6 L489.6,167.0 L490.1,168.8 L490.6,170.7 L491.1,172.6 L491.3,173.1 L491.6,174.3 L491.8,175.4 L492.1,176.7 L492.4,177.7 L492.6,178.7 L492.9,179.7 L493.2,181.1 L493.5,182.4 L493.7,184.1 L494.0,185.5 L494.3,186.3 L494.6,187.9 L494.9,189.5 L495.1,190.3 L495.4,191.3 L495.7,193.0 L496.0,194.0 L496.2,195.1 L496.5,196.5 L496.8,197.5 L497.1,198.9 L497.4,200.4 L497.7,201.3 L498.0,202.5 L498.3,204.2 L498.6,205.8 L498.8,206.9 L499.1,207.6 L499.3,209.3 L499.6,209.7 L499.8,210.9 L500.1,212.2 L500.3,213.7 L500.5,215.5 L500.7,217.0 L500.8,218.1 L501.0,219.7 L501.1,220.6 L501.3,222.3 L501.5,223.2 L501.7,224.3 L501.9,225.2 L502.2,226.5 L502.6,227.8 L503.0,229.4 L503.4,230.0 L503.8,231.2 L504.3,232.8 L504.8,233.2 L505.3,234.7 L505.8,235.5 L506.3,237.1 L506.9,238.3 L507.4,238.9 L507.9,240.7 L508.5,241.7 L509.1,242.9 L509.7,244.6 L510.3,245.9 L510.9,246.7 L511.5,248.3 L512.1,248.9 L512.7,250.3 L513.3,250.9 L513.8,252.2 L515.1,254.0 L516.3,254.7 L517.5,254.8 L518.6,255.7 L519.6,256.3 L520.9,257.1 L521.8,257.4 L523.1,258.8 L523.7,259.7 L524.4,260.4 L525.1,262.0 L525.9,262.8 L526.6,264.0 L527.4,264.9 L528.2,266.1 L528.9,267.6 L529.9,268.0 L531.0,268.5 L532.1,269.4 L533.1,270.6 L534.0,270.6 L534.7,271.7 L535.2,272.9 L535.4,274.9 L535.4,276.3 L535.5,277.4 L535.9,279.1 L536.8,279.5 L538.1,280.0 L540.0,280.0 L541.0,280.4 L542.3,279.8 L543.8,280.0 L545.3,280.1 L546.7,280.2 L548.1,280.7 L549.2,280.5 L550.0,280.5" fill="none" stroke="#22e022" stroke-width="2.1" stroke-linejoin="round"/>
</g>
<rect x="451" y="25" width="40.5" height="49" fill="#fff" stroke="#888" stroke-width="0.8"/>
<circle cx="459.5" cy="29.8" r="2.3" fill="#f04a1a"/>
<polygon points="459.5,35.3 461.9,39.6 457.1,39.6" fill="#e8d000"/>
<line x1="453.4" y1="45.9" x2="466" y2="45.9" stroke="#2040e8" stroke-width="1.8"/>
<line x1="453.4" y1="53.9" x2="466" y2="53.9" stroke="#22dd22" stroke-width="1.8"/>
<line x1="453.4" y1="61.7" x2="466" y2="61.7" stroke="#ee2a1a" stroke-width="1.8"/>
<line x1="453.4" y1="70" x2="466" y2="70" stroke="#111" stroke-width="1.8"/>
<text x="468.3" y="32.2" font-size="7" fill="#333" stroke="#333" stroke-width="0.2">Tc</text>
<text x="468.3" y="40.2" font-size="7" fill="#333" stroke="#333" stroke-width="0.2">Tc&#8211;5</text>
<text x="468.3" y="48.4" font-size="7" fill="#333" stroke="#333" stroke-width="0.2">Tc&#8211;20</text>
<text x="468.3" y="56.4" font-size="7" fill="#333" stroke="#333" stroke-width="0.2">Tc&#8211;40</text>
<text x="468.3" y="64.2" font-size="7" fill="#333" stroke="#333" stroke-width="0.2">Tc&#8211;100</text>
<text x="468.3" y="72.2" font-size="7" fill="#333" stroke="#333" stroke-width="0.2">RT</text>
<rect x="503" y="164.5" width="37.5" height="27" fill="#fff" stroke="#888" stroke-width="0.8"/>
<line x1="506.3" y1="170.2" x2="518.1" y2="170.2" stroke="#111" stroke-width="1.8"/>
<text x="520.5" y="172.7" font-size="7" fill="#333" stroke="#333" stroke-width="0.2">Tc</text>
<line x1="506.3" y1="178.1" x2="518.1" y2="178.1" stroke="#ee2a1a" stroke-width="1.8"/>
<text x="520.5" y="180.6" font-size="7" fill="#333" stroke="#333" stroke-width="0.2">Tc&#8211;5</text>
<line x1="506.3" y1="186.1" x2="518.1" y2="186.1" stroke="#22dd22" stroke-width="1.8"/>
<text x="520.5" y="188.6" font-size="7" fill="#333" stroke="#333" stroke-width="0.2">Tc&#8211;80</text>
</svg>
</body></html>
